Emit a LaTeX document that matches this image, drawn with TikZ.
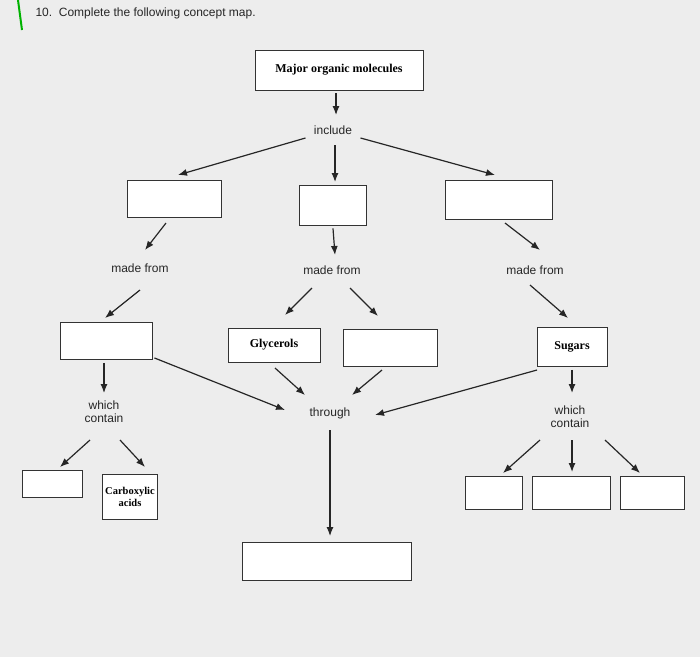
\documentclass[tikz,border=0pt]{standalone}
\usepackage{fontspec}
\setmainfont{Liberation Serif}
\newfontfamily\hand{Liberation Sans}
\usetikzlibrary{arrows.meta}
\begin{document}
\begin{tikzpicture}[x=1pt,y=-1pt,
  bx/.style={draw=black!80,line width=0.9pt,fill=white,inner sep=0pt},
  lbl/.style={font=\hand\fontsize{12}{13}\selectfont,align=center,text=black!85},
  bt/.style={font=\fontsize{12}{13}\selectfont\bfseries,align=center},
  ar/.style={-{Latex[length=9pt,width=7pt]},line width=1.2pt,black!85}]
\fill[black!7] (0,0) rectangle (700,657);
\useasboundingbox (0,0) rectangle (700,657);
\draw[green!70!black,line width=2pt] (18,0) -- (22,30);
\node[anchor=west,lbl] (title) at (32,13) {10.\ \ Complete the following concept map.};
\node[bx,minimum width=168pt,minimum height=40pt,bt] (major) at (339,70) {Major organic molecules};
\node[lbl] (inc) at (333,130) {include};
\node[bx,minimum width=94pt,minimum height=37pt] (b1) at (174,199) {};
\node[bx,minimum width=67pt,minimum height=40pt] (b2) at (333,205) {};
\node[bx,minimum width=107pt,minimum height=39pt] (b3) at (499,200) {};
\node[lbl] (m1) at (140,268) {made from};
\node[lbl] (m2) at (332,270) {made from};
\node[lbl] (m3) at (535,270) {made from};
\node[bx,minimum width=92pt,minimum height=37pt] (c1) at (106,341) {};
\node[bx,minimum width=92pt,minimum height=34pt,bt] (gly) at (274,345) {Glycerols};
\node[bx,minimum width=94pt,minimum height=37pt] (c3) at (390,348) {};
\node[bx,minimum width=70pt,minimum height=39pt,bt] (sug) at (572,347) {Sugars};
\node[lbl] (wc1) at (104,412) {which\\contain};
\node[lbl] (thr) at (330,413) {through};
\node[lbl] (wc2) at (570,417) {which\\contain};
\node[bx,minimum width=60pt,minimum height=27pt] (d1) at (52,484) {};
\node[bx,minimum width=55pt,minimum height=45pt,font=\fontsize{10.5}{12}\selectfont\bfseries,align=center] (carb) at (130,497) {Carboxylic\\acids};
\node[bx,minimum width=57pt,minimum height=33pt] (e1) at (494,493) {};
\node[bx,minimum width=78pt,minimum height=33pt] (e2) at (571,493) {};
\node[bx,minimum width=64pt,minimum height=33pt] (e3) at (652,493) {};
\node[bx,minimum width=169pt,minimum height=38pt] (bot) at (327,561) {};
% arrows
\draw[ar] (major.south -| 336,0) ++(0,3) -- (336,115);
\draw[ar] (inc.west) ++(-5,8) -- (178,175);
\draw[ar] (335,145) -- (335,182);
\draw[ar] (inc.east) ++(5,8) -- (495,175);
\draw[ar] (166,223) -- (145,250);
\draw[ar] (b2.south) ++(0,3) -- (335,255);
\draw[ar] (505,223) -- (540,250);
\draw[ar] (140,290) -- (105,318);
\draw[ar] (312,288) -- (285,315);
\draw[ar] (350,288) -- (378,316);
\draw[ar] (530,285) -- (568,318);
\draw[ar] (c1.south -| 104,0) ++(0,3) -- (104,393);
\draw[ar] (c1.south east) ++(2,-2) -- (285,410);
\draw[ar] (275,368) -- (305,395);
\draw[ar] (382,370) -- (352,395);
\draw[ar] (537,370) -- (375,415);
\draw[ar] (sug.south -| 572,0) ++(0,3) -- (572,393);
\draw[ar] (90,440) -- (60,467);
\draw[ar] (120,440) -- (145,467);
\draw[ar] (540,440) -- (503,473);
\draw[ar] (572,440) -- (572,472);
\draw[ar] (605,440) -- (640,473);
\draw[ar] (330,430) -- (330,536);
\end{tikzpicture}
\end{document}
